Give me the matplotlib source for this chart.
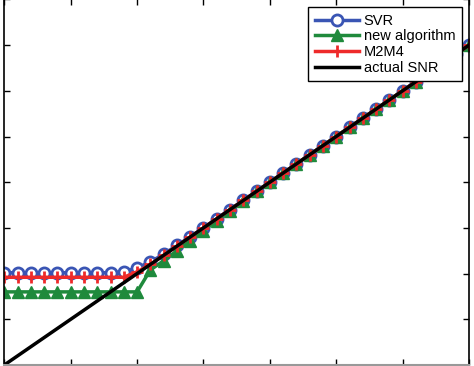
import numpy as np
import matplotlib
matplotlib.use('Agg')
import matplotlib.pyplot as plt

plt.rcParams['font.family'] = ['Liberation Sans', 'DejaVu Sans']

# SNR grid (dB), one marker per dB
snr_true = list(range(-10, 26))

svr = [0.1] * 9 + [0.2, 0.6, 1.3, 2.1, 3.1, 4.0] + [float(v) for v in range(5, 26)]
m2m4 = [-0.4] * 10 + [0.2, 1.0, 2.0, 3.0, 4.0] + [float(v) for v in range(5, 26)]
new_alg = [-2.0] * 11 + [0.4, 1.4, 2.5, 3.6, 4.7, 5.8, 6.9, 7.9] + [float(v) for v in range(9, 26)]

blue = '#3a55b4'
green = '#1f8a3c'
red = '#ee2a2a'

fig = plt.figure(figsize=(4.74, 3.66), dpi=100)
ax = fig.add_axes([4.3 / 474, 1.0 / 366, 464.7 / 474, 365.6 / 366])

ax.plot(snr_true, svr, color=blue, linewidth=2.5, marker='o', markersize=8,
        markerfacecolor='white', markeredgecolor=blue, markeredgewidth=2, label='SVR')
ax.plot(snr_true, new_alg, color=green, linewidth=2.5, marker='^', markersize=8.5,
        markerfacecolor=green, markeredgecolor=green, label='new algorithm')
ax.plot(snr_true, m2m4, color=red, linewidth=2.5, marker='+', markersize=8,
        markeredgewidth=2, label='M2M4')
ax.plot(snr_true, snr_true, color='black', linewidth=2.5, label='actual SNR')

ax.set_xlim(-10, 25)
ax.set_ylim(-10, 30)
ax.set_xticks(np.arange(-10, 26, 5))
ax.set_yticks(np.arange(-10, 31, 5))
ax.tick_params(direction='in', length=4, width=1, top=True, right=True,
               labelbottom=False, labelleft=False)
for side in ['left', 'right', 'top']:
    ax.spines[side].set_linewidth(1.2)
ax.spines['bottom'].set_color('#999999')
ax.spines['bottom'].set_linewidth(1.5)

leg = ax.legend(loc='upper right', bbox_to_anchor=(0.985, 0.979), fontsize=10.5,
                frameon=True, fancybox=False, edgecolor='black', framealpha=1,
                handlelength=3.0, borderpad=0.45, labelspacing=0.12,
                handletextpad=0.35, borderaxespad=0)
leg.get_frame().set_linewidth(1.0)

fig.savefig('out.png', dpi=100)
